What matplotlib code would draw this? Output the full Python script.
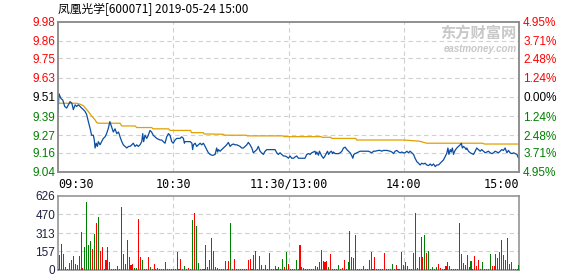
import numpy as np
import matplotlib
matplotlib.use('Agg')
import matplotlib.pyplot as plt

plt.rcParams['font.family'] = ['Liberation Sans', 'Noto Sans CJK SC', 'DejaVu Sans']

title = '凤凰光学[600071] 2019-05-24 15:00'
prev_close = 9.51

price_ticks = [9.98, 9.86, 9.75, 9.63, 9.51, 9.39, 9.27, 9.16, 9.04]
pct_labels = ['4.95%', '3.71%', '2.48%', '1.24%', '0.00%', '1.24%', '2.48%', '3.71%', '4.95%']
time_labels = ['09:30', '10:30', '11:30/13:00', '14:00', '15:00']
time_ticks = [0, 60, 120, 180, 240]
vol_ticks = [0, 157, 313, 470, 626]

# price trace (minute index, price)
price_min = [0, 0.5, 1.5, 2.5, 3.5, 4.5, 5.4, 6.3, 7.2, 8, 8.9, 9.7, 10.6, 11.5, 12.3, 13.2, 14, 14.9,
             15.8, 16.7, 17.5, 18.4, 18.9, 19.3, 19.9, 20.5, 21, 21.9, 22.7, 23.6, 24.5, 25.3, 26.2, 27,
             28, 28.8, 29.7, 30.6, 31.5, 32.3, 33.2, 34, 34.9, 35.8, 36.7, 37.5, 38.4, 39.2, 40.1, 41,
             41.8, 42.7, 43.6, 44.1, 44.6, 45.3, 46.2, 47, 47.9, 48.7, 49.6, 50.5, 51.4, 52.2, 53.1, 54,
             54.8, 55.7, 56.6, 57.5, 58.3, 59.2, 60, 60.9, 61.8, 62.6, 63.5, 64.4, 65.3, 65.8, 66.1, 67,
             67.9, 68.8, 69.7, 70.1, 70.5, 71.4, 72.2, 73.1, 74, 74.8, 75.7, 76.6, 77.4, 78.3, 79.2, 80,
             80.9, 81.8, 82.6, 83.1, 83.5, 84.4, 85.2, 86.1, 87, 87.8, 88.7, 89.6, 90.4, 91.3, 92.2, 93.1,
             93.9, 94.8, 95.7, 96.5, 97.4, 98.3, 99.1, 100, 100.9, 101.7, 102.6, 103.5, 104.3, 105.2, 106,
             106.9, 107.8, 108.7, 109.5, 110.4, 111.3, 112.1, 113, 113.9, 114.7, 115.6, 116.5, 117.4,
             118.2, 119.1, 120, 120.8, 121.7, 122.6, 123.5, 124.3, 125.2, 126, 126.9, 127.8, 128.6, 129.5,
             130.4, 131.2, 132.1, 133, 133.8, 134.2, 134.7, 135.6, 136.1, 136.9, 137.3, 138.2, 139, 139.9,
             140.3, 140.9, 141.7, 142.3, 143, 143.4, 144.3, 145.1, 146, 146.9, 147.8, 148.6, 149.5, 150.4,
             151.2, 152.1, 153, 153.5, 154, 154.7, 155.6, 156.4, 157.3, 158.2, 160, 161.6, 162.5, 163.4,
             164.2, 165.1, 166.8, 167.7, 168.6, 169.4, 171.2, 172.9, 173.8, 174.7, 175.5, 176.4, 177.3,
             178.1, 179, 179.9, 180.7, 181.6, 182.5, 183.3, 184.2, 185.1, 185.9, 186.8, 187.7, 188.5,
             189.4, 190.3, 191.1, 192, 192.9, 193.8, 194.6, 195.5, 196.4, 197.2, 198.1, 199, 199.8, 200.7,
             201.6, 202.4, 203, 203.5, 204.2, 204.7, 205.3, 205.9, 206.5, 207, 207.6, 208.5, 209.4, 210,
             210.5, 211.1, 212, 212.5, 212.8, 213.7, 214.6, 215.4, 216.3, 217.2, 218, 218.9, 219.8, 220.6,
             221.5, 222.4, 223.3, 224.1, 225, 225.9, 226.7, 227.6, 228.5, 229.3, 230.2, 231, 231.9, 232.8,
             233.7, 234.5, 235.4, 236.3, 237.2, 238, 238.9, 239.8]
price = [9.41, 9.53, 9.50, 9.49, 9.45, 9.44, 9.46, 9.48, 9.47, 9.43, 9.46, 9.45, 9.46, 9.45, 9.44, 9.43,
         9.42, 9.40, 9.355, 9.313, 9.27, 9.27, 9.24, 9.19, 9.22, 9.20, 9.23, 9.21, 9.23, 9.25, 9.26, 9.28,
         9.313, 9.355, 9.32, 9.29, 9.31, 9.28, 9.29, 9.26, 9.23, 9.21, 9.20, 9.19, 9.20, 9.20, 9.21, 9.22,
         9.20, 9.21, 9.20, 9.21, 9.23, 9.28, 9.23, 9.27, 9.25, 9.27, 9.30, 9.29, 9.27, 9.26, 9.25, 9.245,
         9.24, 9.24, 9.23, 9.22, 9.26, 9.28, 9.27, 9.23, 9.22, 9.24, 9.25, 9.25, 9.25, 9.26, 9.25, 9.22,
         9.23, 9.23, 9.23, 9.23, 9.22, 9.18, 9.21, 9.22, 9.20, 9.21, 9.22, 9.21, 9.22, 9.20, 9.18, 9.16,
         9.15, 9.145, 9.145, 9.15, 9.19, 9.165, 9.18, 9.17, 9.18, 9.19, 9.20, 9.21, 9.225, 9.20, 9.21,
         9.215, 9.21, 9.21, 9.205, 9.20, 9.19, 9.19, 9.20, 9.21, 9.225, 9.21, 9.19, 9.16, 9.17, 9.18, 9.20,
         9.17, 9.16, 9.15, 9.17, 9.18, 9.18, 9.18, 9.18, 9.18, 9.18, 9.16, 9.15, 9.16, 9.15, 9.14, 9.14,
         9.135, 9.126, 9.14, 9.126, 9.126, 9.135, 9.14, 9.126, 9.126, 9.126, 9.126, 9.126, 9.15, 9.155,
         9.15, 9.16, 9.165, 9.17, 9.15, 9.165, 9.145, 9.17, 9.15, 9.14, 9.126, 9.14, 9.16, 9.17, 9.15,
         9.165, 9.17, 9.155, 9.165, 9.155, 9.155, 9.155, 9.16, 9.17, 9.19, 9.195, 9.18, 9.17, 9.16, 9.14,
         9.126, 9.15, 9.155, 9.16, 9.165, 9.17, 9.17, 9.17, 9.17, 9.165, 9.16, 9.17, 9.17, 9.175, 9.175,
         9.17, 9.175, 9.175, 9.17, 9.165, 9.155, 9.17, 9.175, 9.165, 9.16, 9.165, 9.16, 9.16, 9.17, 9.16,
         9.17, 9.16, 9.15, 9.126, 9.105, 9.095, 9.084, 9.095, 9.09, 9.095, 9.084, 9.08, 9.09, 9.08, 9.09,
         9.074, 9.084, 9.084, 9.095, 9.105, 9.116, 9.137, 9.158, 9.19, 9.15, 9.18, 9.165, 9.19, 9.15,
         9.17, 9.18, 9.19, 9.20, 9.21, 9.22, 9.19, 9.20, 9.19, 9.18, 9.19, 9.17, 9.16, 9.155, 9.15, 9.17,
         9.19, 9.18, 9.17, 9.18, 9.17, 9.16, 9.165, 9.17, 9.16, 9.155, 9.16, 9.17, 9.165, 9.16, 9.17,
         9.18, 9.175, 9.19, 9.16, 9.175, 9.16, 9.155, 9.16, 9.155, 9.15, 9.126]

# average price line
avg_min = [0, 9.7, 11.5, 13.2, 14, 15.8, 17.5, 19.3, 20.1, 21, 32.3, 33.2, 40.1, 41, 48.8, 49.5, 57.5,
           58.3, 69, 69.5, 75.7, 76, 86, 87, 98, 98.5, 117, 118, 137, 137.5, 142, 142.5, 155, 155.5,
           180, 188, 192, 221, 222, 240]
avg_price = [9.47, 9.47, 9.464, 9.455, 9.443, 9.418, 9.39, 9.366, 9.35, 9.345, 9.345, 9.328, 9.328,
             9.318, 9.318, 9.31, 9.31, 9.30, 9.30, 9.286, 9.286, 9.278, 9.276, 9.27, 9.27, 9.266, 9.266,
             9.261, 9.261, 9.257, 9.257, 9.25, 9.25, 9.24, 9.24, 9.233, 9.22, 9.22, 9.215, 9.215]

# per-minute volume (lots), 241 bars, and up/down flag (r = up, g = down)
volume = [8, 127, 220, 135, 28, 11, 59, 87, 118, 51, 42, 118, 321, 17, 195, 575, 211, 245, 178, 305,
          398, 448, 161, 195, 6, 85, 195, 68, 8, 8, 8, 34, 6, 533, 135, 51, 254, 110, 42, 51,
          17, 17, 431, 110, 85, 8, 8, 110, 25, 8, 51, 11, 17, 8, 11, 8, 68, 8, 8, 8,
          8, 8, 152, 8, 93, 8, 34, 8, 17, 8, 423, 482, 372, 59, 8, 8, 8, 211, 25, 85,
          271, 161, 25, 17, 8, 8, 8, 76, 8, 76, 398, 8, 93, 8, 8, 8, 8, 8, 8, 85,
          93, 8, 127, 161, 8, 118, 42, 8, 42, 8, 144, 8, 8, 34, 8, 25, 8, 93, 25, 152,
          51, 8, 8, 8, 85, 8, 211, 25, 17, 8, 8, 8, 8, 8, 34, 25, 68, 169, 76, 68,
          76, 25, 135, 8, 8, 8, 42, 8, 17, 85, 8, 68, 330, 110, 102, 296, 8, 8, 8, 34,
          8, 8, 85, 152, 8, 110, 8, 8, 8, 8, 144, 8, 8, 8, 51, 8, 42, 8, 8, 152,
          42, 68, 34, 8, 8, 144, 482, 17, 110, 279, 110, 296, 144, 161, 8, 25, 8, 25, 51, 17,
          8, 8, 34, 68, 34, 8, 8, 8, 8, 398, 135, 59, 42, 127, 25, 76, 8, 118, 34, 85,
          8, 68, 8, 8, 8, 135, 34, 34, 135, 102, 152, 254, 127, 85, 271, 51, 68, 8, 8, 8,
          42]
updown = ('grgrggrggr' 'gggrggggrg' 'rgrrrrrrgg' 'ggrggggrrr' 'ggrrgrgrgr' 'rgrggrrggr'
          'ggrrrggrrg' 'grggrrgggg' 'grrrgggrrr' 'grrgrrgggr' 'rggrgrrgrg' 'rrrrggrgrg'
          'rgrrgrrrrg' 'rggggrrgrr' 'rgrggrgrrr' 'ggggrrrrgr' 'gggrgrgrgg' 'rrgrgrrgrr'
          'grgrgggggg' 'rgrgrgrgrr' 'rrrrgggrrr' 'rgrrgggrrr' 'ggrrrgrrrr' 'ggrrgrgrgr' 'g')

red = '#ff0000'
green = '#008000'
grid_kw = dict(color='#d0d0d0', linestyle=(0, (4, 3)), linewidth=0.8)

fig = plt.figure(figsize=(5.78, 2.76), dpi=100)
ax = fig.add_axes([58 / 578, 1 - 172 / 276, 461 / 578, 150.3 / 276])
axv = fig.add_axes([58 / 578, 1 - 270 / 276, 461 / 578, 74 / 276])

# price panel
ax.plot(avg_min, avg_price, color='#e0a000', linewidth=0.9, zorder=3)
ax.plot(price_min, price, color='#0b4ea2', linewidth=0.9, zorder=4)
ax.set_xlim(0, 240)
ax.set_ylim(price_ticks[-1], price_ticks[0])
ax.set_yticks(price_ticks)
ax.set_yticklabels(['%.2f' % p for p in price_ticks], fontsize=8.5)
for lab, p in zip(ax.get_yticklabels(), price_ticks):
    lab.set_color(red if p > prev_close else ('black' if p == prev_close else green))
ax.set_xticks(time_ticks)
ax.set_xticklabels(time_labels, fontsize=8.5, family='DejaVu Sans Mono')
xl = ax.get_xticklabels()
xl[0].set_horizontalalignment('left')
xl[-1].set_horizontalalignment('right')
ax.tick_params(length=0, pad=2)
ax.tick_params(axis='x', pad=4)
for y in price_ticks[1:-1]:
    ax.axhline(y, zorder=1, **grid_kw)
for x in time_ticks[1:-1]:
    ax.axvline(x, zorder=1, **grid_kw)

ax2 = ax.twinx()
ax2.set_ylim(ax.get_ylim())
ax2.set_yticks(price_ticks)
ax2.set_yticklabels(pct_labels, fontsize=8.5)
for lab, p in zip(ax2.get_yticklabels(), price_ticks):
    lab.set_color(red if p > prev_close else ('black' if p == prev_close else green))
ax2.tick_params(length=0, pad=3)

for a in (ax, ax2, axv):
    for s in a.spines.values():
        s.set_color('#8c8c8c')
        s.set_linewidth(1.1)

# watermark
ax.text(0.995, 0.925, '东方财富网', transform=ax.transAxes, ha='right', va='center',
        fontsize=11, color='#c8c8c8', fontweight='bold', family=['Noto Sans CJK SC'])
ax.text(0.995, 0.82, 'eastmoney.com', transform=ax.transAxes, ha='right', va='center',
        fontsize=7, color='#c8c8c8', fontweight='bold', style='italic')

fig.text(58 / 578, 1 - 10 / 276, title, ha='left', va='center', fontsize=8.5,
         family=['Noto Sans CJK SC', 'DejaVu Sans'])

# volume panel
idx = np.arange(len(volume))
colors = [red if c == 'r' else green for c in updown[:len(volume)]]
axv.bar(idx, volume, width=0.55, color=colors, zorder=3)
axv.set_xlim(0, 240)
axv.set_ylim(0, vol_ticks[-1])
axv.set_yticks(vol_ticks)
axv.set_yticklabels([str(v) for v in vol_ticks], fontsize=8.5, color='#1c2040')
axv.set_xticks([])
axv.tick_params(length=0, pad=2)
for y in vol_ticks[1:-1]:
    axv.axhline(y, zorder=1, **grid_kw)
for x in time_ticks[1:-1]:
    axv.axvline(x, zorder=1, **grid_kw)

fig.savefig('out.png', dpi=100)
